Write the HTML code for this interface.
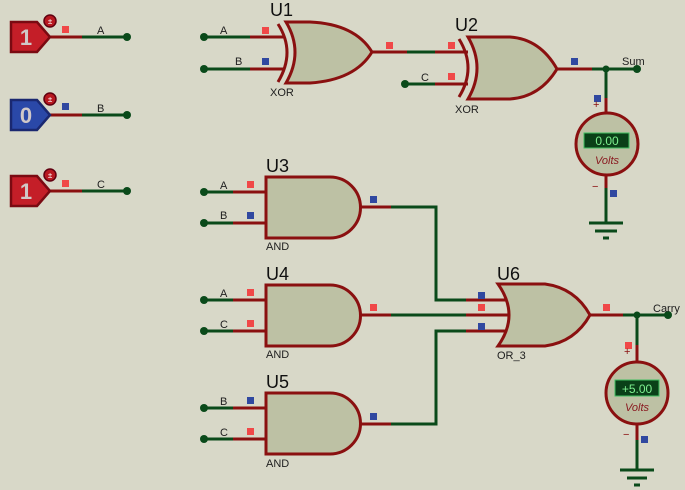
<!DOCTYPE html>
<html><head><style>
html,body{margin:0;padding:0;background:#d8d8c8;}
svg{display:block;font-family:"Liberation Sans",sans-serif;}
</style></head><body>
<svg width="685" height="490" viewBox="0 0 685 490" xmlns="http://www.w3.org/2000/svg">
<rect width="685" height="490" fill="#d8d8c8"/>
<defs>
<g id="anch"><circle r="6" fill="#b81820" stroke="#600010" stroke-width="1.5"/><text y="3" font-size="8" fill="#fff" text-anchor="middle">±</text></g>
</defs>
<g stroke-width="3" fill="none">
<path d="M50 37H82" stroke="#8a1010"/><path d="M82 37H127" stroke="#0a4a1a"/>
<path d="M50 115H82" stroke="#8a1010"/><path d="M82 115H127" stroke="#0a4a1a"/>
<path d="M50 191H82" stroke="#8a1010"/><path d="M82 191H127" stroke="#0a4a1a"/>
<path d="M204 37H250" stroke="#0a4a1a"/><path d="M250 37H285" stroke="#8a1010"/>
<path d="M204 69H250" stroke="#0a4a1a"/><path d="M250 69H285" stroke="#8a1010"/>
<path d="M372 52H407" stroke="#8a1010"/><path d="M407 52H435" stroke="#0a4a1a"/><path d="M435 52H468" stroke="#8a1010"/>
<path d="M405 84H435" stroke="#0a4a1a"/><path d="M435 84H468" stroke="#8a1010"/>
<path d="M557 69H592" stroke="#8a1010"/><path d="M592 69H637" stroke="#0a4a1a"/>
<path d="M606 69V98" stroke="#0a4a1a"/><path d="M606 98V112" stroke="#8a1010"/>
<path d="M606 176V188" stroke="#8a1010"/><path d="M606 188V223" stroke="#0a4a1a"/>
<path d="M589 223H623M595 231H617M603 238H609" stroke="#0a4a1a"/>
<path d="M204 192H233M204 223H233M204 300H233M204 331H233M204 408H233M204 439H233" stroke="#0a4a1a"/>
<path d="M233 192H266M233 223H266M233 300H266M233 331H266M233 408H266M233 439H266" stroke="#8a1010"/>
<path d="M358 207H391M358 315H391M358 424H391" stroke="#8a1010"/>
<path d="M391 207H436V300H466M391 315H466M391 424H436V331H466" stroke="#0a4a1a"/>
<path d="M466 300H508M466 315H510M466 331H508" stroke="#8a1010"/>
<path d="M590 315H623" stroke="#8a1010"/><path d="M623 315H668" stroke="#0a4a1a"/>
<path d="M637 315V345" stroke="#0a4a1a"/><path d="M637 345V362" stroke="#8a1010"/>
<path d="M637 424V440" stroke="#8a1010"/><path d="M637 440V470" stroke="#0a4a1a"/>
<path d="M620 470H654M627 478H647M634 485H640" stroke="#0a4a1a"/>
</g>
<g fill="#0a4a1a">
<circle cx="127" cy="37" r="4"/><circle cx="127" cy="115" r="4"/><circle cx="127" cy="191" r="4"/>
<circle cx="204" cy="37" r="4"/><circle cx="204" cy="69" r="4"/><circle cx="405" cy="84" r="4"/>
<circle cx="606" cy="69" r="3.5"/><circle cx="637" cy="69" r="4"/>
<circle cx="204" cy="192" r="4"/><circle cx="204" cy="223" r="4"/><circle cx="204" cy="300" r="4"/><circle cx="204" cy="331" r="4"/><circle cx="204" cy="408" r="4"/><circle cx="204" cy="439" r="4"/>
<circle cx="637" cy="315" r="3.5"/><circle cx="668" cy="315" r="4"/>
</g>
<g stroke-width="2.5">
<path d="M11 22H37L50 37L37 52H11Z" fill="#c41e28" stroke="#7a0a12"/>
<path d="M11 100H37L50 115L37 130H11Z" fill="#2a48a8" stroke="#1a2870"/>
<path d="M11 176H37L50 191L37 206H11Z" fill="#c41e28" stroke="#7a0a12"/>
</g>
<g font-size="22" font-weight="bold" fill="#d0c8c8" text-anchor="middle">
<text x="26" y="45">1</text><text x="26" y="123">0</text><text x="26" y="199">1</text>
</g>
<use href="#anch" x="50" y="21"/><use href="#anch" x="50" y="99"/><use href="#anch" x="50" y="175"/>
<g stroke="#8a1010" stroke-width="3" fill="#bdc1a4">
<path d="M286 22H310Q355 24 372 52Q355 80 310 83H286Q304 52 286 22Z"/>
<path d="M278 24Q296 52 278 82" fill="none"/>
<path d="M468 37H510Q540 39 557 69Q540 97 510 99H468Q486 68 468 37Z"/>
<path d="M459 39Q477 68 459 97" fill="none"/>
<path d="M266 177H330A30 30 0 0 1 330 238H266Z"/>
<path d="M266 285H330A30 30 0 0 1 330 346H266Z"/>
<path d="M266 393H330A30 30 0 0 1 330 454H266Z"/>
<path d="M498 284H545Q575 288 590 315Q575 342 545 346H498Q520 315 498 284Z"/>
<circle cx="607" cy="144" r="31"/>
<circle cx="637" cy="393" r="31"/>
</g>
<rect x="584" y="133" width="45" height="15" fill="#0a4018" stroke="#40c060" stroke-width="1"/>
<rect x="615" y="380" width="44" height="16" fill="#0a4018" stroke="#40c060" stroke-width="1"/>
<text x="607" y="145" font-size="12" fill="#7ef090" text-anchor="middle">0.00</text>
<text x="637" y="393" font-size="12" fill="#7ef090" text-anchor="middle">+5.00</text>
<text x="607" y="164" font-size="11" font-style="italic" fill="#8a1a20" text-anchor="middle">Volts</text>
<text x="637" y="411" font-size="11" font-style="italic" fill="#8a1a20" text-anchor="middle">Volts</text>
<g fill="#f04848">
<rect x="62" y="26" width="7" height="7"/><rect x="62" y="180" width="7" height="7"/>
<rect x="262" y="27" width="7" height="7"/><rect x="386" y="42" width="7" height="7"/><rect x="448" y="42" width="7" height="7"/><rect x="448" y="73" width="7" height="7"/>
<rect x="247" y="181" width="7" height="7"/><rect x="247" y="289" width="7" height="7"/><rect x="247" y="320" width="7" height="7"/><rect x="247" y="428" width="7" height="7"/>
<rect x="370" y="304" width="7" height="7"/><rect x="478" y="304" width="7" height="7"/><rect x="603" y="304" width="7" height="7"/><rect x="625" y="342" width="7" height="7"/>
</g>
<g fill="#3048a0">
<rect x="62" y="103" width="7" height="7"/><rect x="262" y="58" width="7" height="7"/><rect x="571" y="58" width="7" height="7"/>
<rect x="594" y="95" width="7" height="7"/><rect x="610" y="190" width="7" height="7"/>
<rect x="247" y="212" width="7" height="7"/><rect x="370" y="196" width="7" height="7"/><rect x="247" y="397" width="7" height="7"/><rect x="370" y="413" width="7" height="7"/>
<rect x="478" y="292" width="7" height="7"/><rect x="478" y="323" width="7" height="7"/><rect x="641" y="436" width="7" height="7"/>
</g>
<g font-size="11" fill="#202020">
<text x="97" y="34">A</text><text x="97" y="112">B</text><text x="97" y="188">C</text>
<text x="220" y="34">A</text><text x="235" y="65">B</text><text x="421" y="81">C</text>
<text x="220" y="189">A</text><text x="220" y="219">B</text><text x="220" y="297">A</text><text x="220" y="328">C</text><text x="220" y="405">B</text><text x="220" y="436">C</text>
<text x="270" y="96">XOR</text><text x="455" y="113">XOR</text>
<text x="266" y="250">AND</text><text x="266" y="358">AND</text><text x="266" y="467">AND</text>
<text x="497" y="359">OR_3</text>
<text x="622" y="65">Sum</text><text x="653" y="312">Carry</text>
</g>
<g font-size="11" fill="#8a1010"><text x="593" y="108">+</text><text x="592" y="190">−</text><text x="624" y="355">+</text><text x="623" y="438">−</text></g>
<g font-size="18" fill="#101010">
<text x="270" y="16">U1</text><text x="455" y="31">U2</text><text x="266" y="172">U3</text><text x="266" y="280">U4</text><text x="266" y="388">U5</text><text x="497" y="280">U6</text>
</g>
</svg>
</body></html>
